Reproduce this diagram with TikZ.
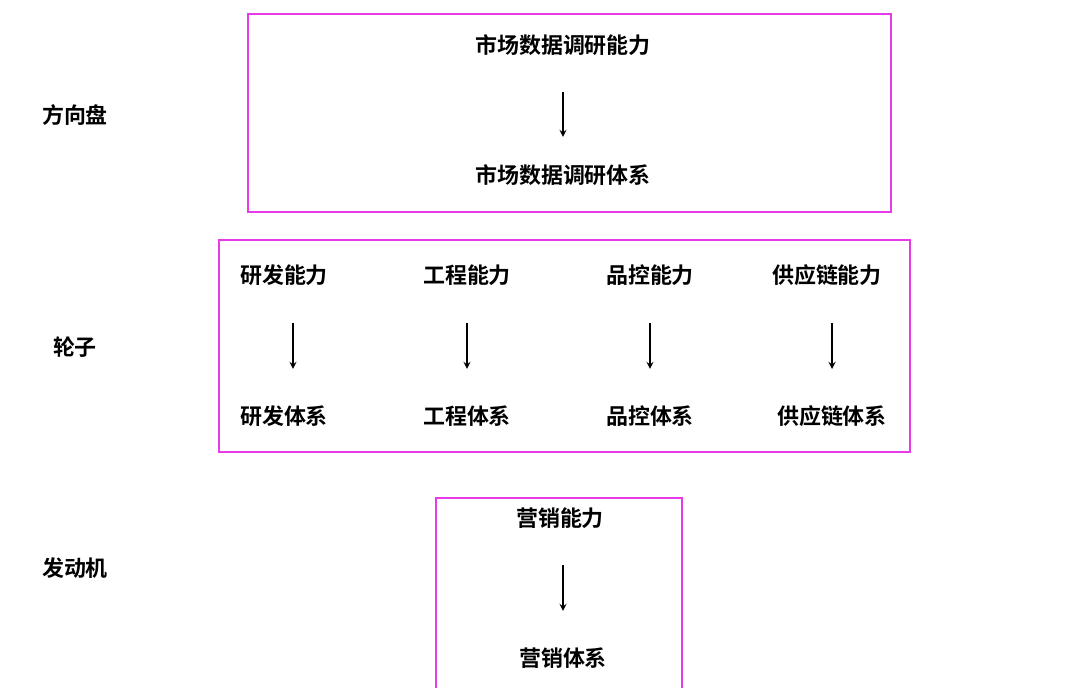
\documentclass[tikz,border=0pt]{standalone}
\usepackage{fontspec}
\setmainfont{Noto Sans CJK SC}[BoldFont={Noto Sans CJK SC Bold}]
\definecolor{boxpink}{HTML}{E83AE8}
\tikzset{lbl/.style={font=\bfseries\fontsize{12.5pt}{14pt}\selectfont, inner sep=1pt},
  box/.style={draw=boxpink, line width=1.1pt},
  arr/.style={->, >=stealth, line width=0.8pt}}
\begin{document}
\begin{tikzpicture}[x=0.02cm,y=-0.02cm]
\useasboundingbox (0,0) rectangle (1080,688);
\begin{scope}
\clip (0,0) rectangle (1080,688);
\draw[box] (248,14) rectangle (891,212);
\draw[box] (219,240) rectangle (910,452);
\draw[box] (436,498) rectangle (682,700);
\end{scope}
\node[lbl] (l0) at (75,115) {方向盘};
\node[lbl] (l1) at (75,347) {轮子};
\node[lbl] (l2) at (75,568) {发动机};
\node[lbl] (a0) at (563,45) {市场数据调研能力};
\node[lbl] (b0) at (563,175) {市场数据调研体系};
\coordinate (a0t) at (563,92); \coordinate (b0t) at (563,137);
\draw[arr] (a0t) -- (b0t);
\node[lbl] (a1) at (284,275) {研发能力};
\node[lbl] (a2) at (467,275) {工程能力};
\node[lbl] (a3) at (650,275) {品控能力};
\node[lbl] (a4) at (827,275) {供应链能力};
\node[lbl] (b1) at (284,416) {研发体系};
\node[lbl] (b2) at (467,416) {工程体系};
\node[lbl] (b3) at (650,416) {品控体系};
\node[lbl] (b4) at (832,416) {供应链体系};
\foreach \x [count=\i] in {293,467,650,832}{
  \coordinate (s\i) at (\x,323); \coordinate (e\i) at (\x,369);
  \draw[arr] (s\i) -- (e\i);
}
\node[lbl] (a5) at (560,518) {营销能力};
\node[lbl] (b5) at (563,658) {营销体系};
\coordinate (a5t) at (563,565); \coordinate (b5t) at (563,611);
\draw[arr] (a5t) -- (b5t);
\end{tikzpicture}
\end{document}
